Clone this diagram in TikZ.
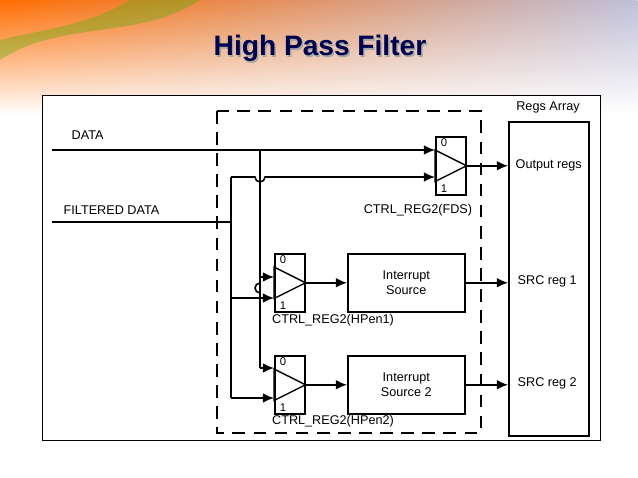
\documentclass[tikz,border=0pt]{standalone}
\usepackage{fontspec}
\setmainfont{Liberation Sans}
\usetikzlibrary{arrows.meta,fadings,calc}

\tikzset{
  wire/.style={line width=1.1pt},
  sig/.style={wire,-{Latex[length=8pt,width=7pt]}},
  muxbox/.style={draw,line width=1.1pt,minimum width=30*0.025cm,minimum height=58*0.025cm,inner sep=0pt},
  block/.style={draw,line width=1.1pt,minimum width=117*0.025cm,minimum height=58*0.025cm,align=center,font=\small},
  lbl/.style={font=\small,inner sep=1pt},
}
% mux: name, x, y (top left corner)
\newcommand{\mux}[3]{%
  \node[muxbox,anchor=north west] (#1) at (#2,#3) {};
  \draw[line width=1pt] ($(#1.north west)+(0,14)$) -- (#1.east) -- ($(#1.south west)+(0,-14)$) -- cycle;
  \node[font=\footnotesize] at ($(#1.north west)+(9,7)$) {0};
  \node[font=\footnotesize] at ($(#1.south west)+(9,-7)$) {1};
}

\begin{document}
\begin{tikzpicture}[x=0.025cm,y=-0.025cm]
\useasboundingbox (0,0) rectangle (638,478);
% slide background
\shade[left color=orange!85!red, right color=blue!25!gray!40, path fading=south] (0,0) rectangle (638,115);
\fill[green!60!yellow!70!black,opacity=0.35] (0,60) .. controls (60,20) and (140,40) .. (200,0) -- (130,0) .. controls (90,25) and (40,30) .. (0,40) -- cycle;
\node[font=\bfseries\fontsize{20}{24}\selectfont,text=black!35] at (321.5,50.5) {High Pass Filter};
\node[font=\bfseries\fontsize{20}{24}\selectfont,text=blue!30!black] (title) at (320,48) {High Pass Filter};
% frame
\draw[fill=white,line width=0.6pt] (42,95) rectangle (600,440);
\draw[line width=1.3pt,dash pattern=on 9pt off 6pt] (217,111) rectangle (481,433);
\node[draw,line width=1.1pt,minimum width=80*0.025cm,minimum height=314*0.025cm,anchor=north west] (regs) at (508,121) {};
\node[lbl] at (548,107) {Regs Array};
%
\mux{muxfds}{435}{136}
\mux{muxhp1}{274}{253}
\mux{muxhp2}{274}{355}
\node[block,anchor=north west] (src1) at (347,253) {Interrupt\\Source};
\node[block,anchor=north west] (src2) at (347,355) {Interrupt\\Source 2};
%
\node[lbl,anchor=south west] (data) at (70,141) {DATA};
\node[lbl,anchor=south west] (filt) at (62,216) {FILTERED DATA};
\node[lbl] (ctrlfds) at (418,210) {CTRL\_REG2(FDS)};
\node[lbl] (ctrlhp1) at (333,320) {CTRL\_REG2(HPen1)};
\node[lbl] (ctrlhp2) at (333,421) {CTRL\_REG2(HPen2)};
\node[lbl,anchor=west] (outregs) at (514,165) {Output regs};
\node[lbl,anchor=west] (srcreg1) at (516,281) {SRC reg 1};
\node[lbl,anchor=west] (srcreg2) at (516,383) {SRC reg 2};
%
\coordinate (dataL) at (52,150);
\coordinate (filtL) at (52,222);
% DATA path
\draw[sig] (dataL) -- (muxfds.west |- 0,150);
\draw[wire] (260,150) -- (260,293) arc (90:270:5) -- (260,368);
\draw[sig] (260,277) -- (muxhp1.west |- 0,277);
\draw[sig] (260,368) -- (muxhp2.west |- 0,368);
% FILTERED DATA path
\draw[wire] (filtL) -- (231,222);
\draw[sig] (231,177) -- (255,177) arc (180:0:5) -- (muxfds.west |- 0,177);
\draw[wire] (231,177) -- (231,398);
\draw[sig] (231,298) -- (muxhp1.west |- 0,298);
\draw[sig] (231,398) -- (muxhp2.west |- 0,398);
% outputs
\draw[sig] (muxfds.east) -- (regs.west |- muxfds.east);
\draw[sig] (muxhp1.east) -- (src1.west);
\draw[sig] (muxhp2.east) -- (src2.west);
\draw[sig] (src1.east) -- (regs.west |- src1.east);
\draw[sig] (src2.east) -- (regs.west |- src2.east);
\end{tikzpicture}
\end{document}
